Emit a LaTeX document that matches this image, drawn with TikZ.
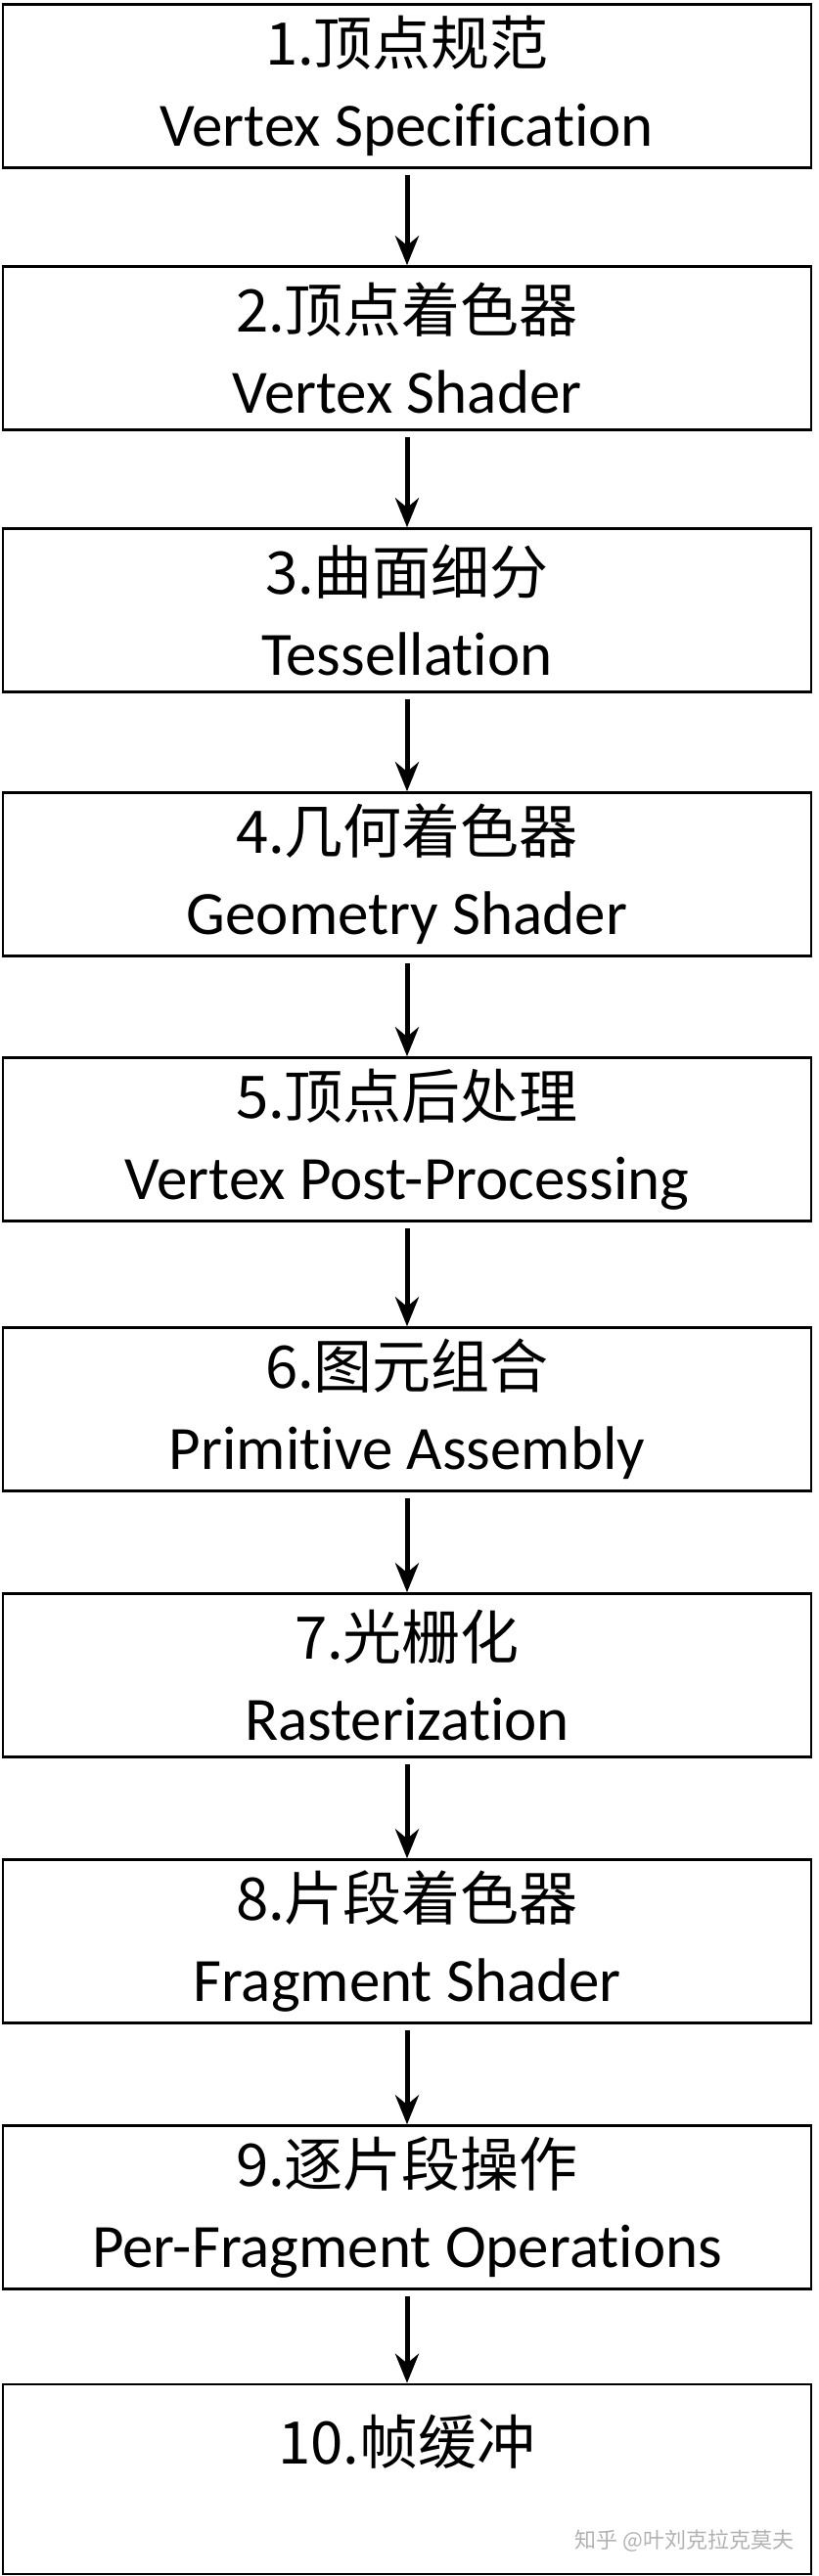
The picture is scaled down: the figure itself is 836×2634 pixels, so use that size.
\documentclass[tikz,border=0pt]{standalone}
\usepackage{fontspec}
\setmainfont[Ligatures=NoCommon]{Carlito}
\newfontfamily\cjk{Noto Sans CJK SC}
\usetikzlibrary{arrows.meta}
\begin{document}
\begin{tikzpicture}[x=1pt,y=-1pt,
  stage/.style={draw,line width=2.5pt,minimum width=826pt,minimum height=167pt,align=center,inner sep=0pt,
    font=\fontsize{63}{83}\selectfont},
  flow/.style={line width=5pt,-{Stealth[length=30pt,width=24pt]}}]
\useasboundingbox (0,0) rectangle (836,2634);
\def\st#1#2#3#4{\node[stage] (#1) at (416,#2) {{\cjk\fontsize{60}{83}\selectfont #3}\\#4};}
\st{s1}{88}{1.顶点规范}{Vertex Specification}
\st{s2}{356}{2.顶点着色器}{Vertex Shader}
\st{s3}{624}{3.曲面细分}{Tessellation}
\st{s4}{894}{4.几何着色器}{Geometry Shader}
\st{s5}{1165}{5.顶点后处理}{Vertex Post-Processing}
\st{s6}{1441}{6.图元组合}{Primitive Assembly}
\st{s7}{1713}{7.光栅化}{Rasterization}
\st{s8}{1985}{8.片段着色器}{Fragment Shader}
\st{s9}{2257}{9.逐片段操作}{Per-Fragment Operations}
\node[stage,minimum height=194pt] (s10) at (416,2535) {};
\node[font=\fontsize{60}{70}\selectfont\cjk] (t10) at (416,2497) {10.帧缓冲};
\node[font=\fontsize{22}{24}\selectfont\cjk,text=gray!60,anchor=east] (wm) at (815,2598) {知乎 @叶刘克拉克莫夫};
\foreach \a/\b in {s1/s2,s2/s3,s3/s4,s4/s5,s5/s6,s6/s7,s7/s8,s8/s9,s9/s10}
  \draw[flow] (\a.south) ++(0,6) coordinate (tmp) (tmp) -- (\b.north);
\end{tikzpicture}
\end{document}
